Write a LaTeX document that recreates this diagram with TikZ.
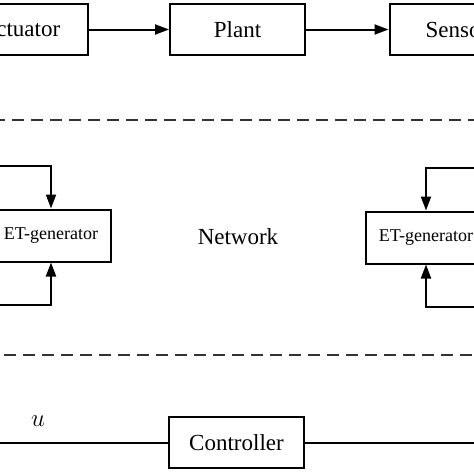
\documentclass[tikz,border=0pt]{standalone}
\usepackage{fontspec}
\setmainfont{Liberation Serif}
\usetikzlibrary{arrows.meta}
\begin{document}
\begin{tikzpicture}[x=1pt,y=-1pt,
  blk/.style={draw, line width=2pt, minimum width=135pt, minimum height=51pt, inner sep=0pt, font=\fontsize{23}{25}\selectfont},
  etblk/.style={draw, line width=2pt, minimum width=119pt, minimum height=52pt, inner sep=0pt, font=\fontsize{18}{20}\selectfont},
  conn/.style={line width=2pt},
  arr/.style={conn, -{Triangle[length=14pt,width=10pt]}},
  sep/.style={line width=2.2pt, dash pattern=on 12pt off 7pt, black!80}]
\clip (0,0) rectangle (474,474);
\fill[white] (0,0) rectangle (474,474);
% top row
\node[blk] (act) at (20,29.5) {Actuator};
\node[blk] (plant) at (237.5,29.5) {Plant};
\node[blk] (sens) at (457,29.5) {Sensor};
\draw[arr] (act) -- (plant);
\draw[arr] (plant) -- (sens);
% dashed separators
\coordinate (d1l) at (-7,120);
\coordinate (d1r) at (480,120);
\coordinate (d2l) at (4,355);
\coordinate (d2r) at (480,355);
\draw[sep] (d1l) -- (d1r);
\draw[sep] (d2l) -- (d2r);
% network layer
\node[etblk] (etl) at (51,235.5) {ET-generator};
\node[etblk, minimum width=120pt] (etr) at (426,237.5) {ET-generator};
\node[font=\fontsize{23}{25}\selectfont] (net) at (238,237) {Network};
\coordinate (lt) at (-5,166);
\coordinate (lb) at (-5,305);
\coordinate (rt) at (480,168);
\coordinate (rb) at (480,307);
\draw[arr] (lt) -| (etl.north);
\draw[arr] (lb) -| (etl.south);
\draw[arr] (rt) -| (etr.north);
\draw[arr] (rb) -| (etr.south);
% controller
\node[blk] (ctrl) at (236.5,442.5) {Controller};
\coordinate (cl) at (-5,442.5);
\coordinate (cr) at (480,442.5);
\draw[conn] (cl) -- (ctrl.west);
\draw[conn] (ctrl.east) -- (cr);
\node[font=\fontsize{24}{26}\selectfont] (u) at (38,421) {$u$};
\end{tikzpicture}
\end{document}
